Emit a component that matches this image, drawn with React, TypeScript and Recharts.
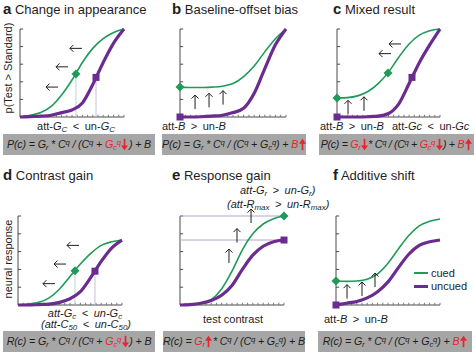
import React from "react";
import { Line, LineChart, ReferenceDot, ReferenceLine, XAxis, YAxis } from "recharts";

const GREEN = "#1f9a58";
const PURPLE = "#6a2d8f";
const RED = "#e3262f";
const INK = "#1e1e1e";
const AXIS = "#4a4a4a";
const FONT = '"Liberation Sans", Arial, Helvetica, sans-serif';

// test contrast steps, lowest to highest
const contrast = [0, 1, 2, 3, 4, 5, 6, 7, 8, 9, 10];

// 0 = x axis, 1 = top of y axis
const aCued = [0, 0.02, 0.05, 0.12, 0.25, 0.42, 0.62, 0.78, 0.89, 0.96, 1];
const aUncued = [0, 0.005, 0.01, 0.02, 0.05, 0.08, 0.16, 0.37, 0.62, 0.84, 1];
const bCued = [0.34, 0.335, 0.335, 0.34, 0.35, 0.38, 0.46, 0.58, 0.74, 0.89, 1];
const bUncued = [0, 0, 0.003, 0.01, 0.02, 0.05, 0.1, 0.27, 0.55, 0.82, 1];
const cCued = [0.216, 0.22, 0.24, 0.29, 0.38, 0.51, 0.68, 0.83, 0.93, 0.98, 1];
const cUncued = [0, 0, 0, 0.003, 0.01, 0.04, 0.15, 0.38, 0.62, 0.82, 1];
const dCued = [0, 0.01, 0.03, 0.08, 0.18, 0.32, 0.46, 0.58, 0.67, 0.71, 0.73];
const dUncued = [0, 0, 0.005, 0.01, 0.03, 0.07, 0.15, 0.31, 0.49, 0.64, 0.73];
const eCued = [0, 0.005, 0.02, 0.06, 0.18, 0.38, 0.62, 0.8, 0.91, 0.97, 1];
const eUncued = [0, 0.005, 0.02, 0.05, 0.11, 0.22, 0.4, 0.56, 0.66, 0.71, 0.73];
const fCued = [0.27, 0.265, 0.27, 0.29, 0.35, 0.47, 0.63, 0.78, 0.89, 0.94, 0.966];
const fUncued = [0, 0.02, 0.04, 0.08, 0.15, 0.26, 0.42, 0.57, 0.67, 0.71, 0.73];

const aMarks = [{ x: 5.38, y: 0.49, kind: "cued" }, { x: 7.31, y: 0.45, kind: "uncued" }];
const bMarks = [{ x: 0, y: 0.34, kind: "cued" }, { x: 0, y: 0, kind: "uncued" }];
const cMarks = [
  { x: 0, y: 0.216, kind: "cued" },
  { x: 4.95, y: 0.5, kind: "cued" },
  { x: 0, y: 0, kind: "uncued" },
  { x: 7.28, y: 0.45, kind: "uncued" }
];
const dMarks = [{ x: 5.48, y: 0.385, kind: "cued" }, { x: 7.4, y: 0.38, kind: "uncued" }];
const eMarks = [{ x: 10, y: 1, kind: "cued" }, { x: 10, y: 0.73, kind: "uncued" }];
const fMarks = [{ x: 0, y: 0.27, kind: "cued" }, { x: 0, y: 0, kind: "uncued" }];

const aArrows = [{ x: 5.38, y: 0.78, dir: "left" }, { x: 4.04, y: 0.57, dir: "left" }, { x: 3.08, y: 0.34, dir: "left" }];
const bArrows = [{ x: 1.42, y: 0.17, dir: "up" }, { x: 2.74, y: 0.19, dir: "up" }, { x: 4.06, y: 0.22, dir: "up" }];
const cArrows = [
  { x: 5.63, y: 0.83, dir: "left" },
  { x: 4.66, y: 0.72, dir: "left" },
  { x: 1.07, y: 0.11, dir: "up" },
  { x: 2.62, y: 0.15, dir: "up" }
];
const dArrows = [{ x: 5.29, y: 0.67, dir: "left" }, { x: 4.04, y: 0.46, dir: "left" }, { x: 2.98, y: 0.24, dir: "left" }];
const eArrows = [{ x: 6.83, y: 1.0, dir: "up" }, { x: 5.48, y: 0.78, dir: "up" }, { x: 4.71, y: 0.55, dir: "up" }];
const fArrows = [{ x: 1.06, y: 0.15, dir: "up" }, { x: 2.5, y: 0.18, dir: "up" }, { x: 3.75, y: 0.28, dir: "up" }];

const eLevels = [1, 0.73];

const Y_TICKS = [0.2, 0.4, 0.6, 0.8, 1];
const X_TICKS = [0.5, 1, 1.5, 2, 2.5, 3, 3.5, 4, 4.5, 5, 5.5, 6, 6.5, 7, 7.5, 8, 8.5, 9, 9.5, 10];

// plot area of each panel in page pixels
const PLOTS = {
  a: { x: 20, y: 29, w: 104, h: 88 },
  b: { x: 180, y: 29, w: 106, h: 88 },
  c: { x: 337, y: 29, w: 103, h: 88 },
  d: { x: 18, y: 216, w: 104, h: 89 },
  e: { x: 180, y: 216, w: 104, h: 89 },
  f: { x: 336, y: 216, w: 104, h: 89 }
};

type Mark = { x: number; y: number; kind: string };
type Arrow = { x: number; y: number; dir: string };

function markShape(kind: string) {
  return (p: any) =>
    kind === "cued" ? (
      <polygon
        points={`${p.cx},${p.cy - 4.5} ${p.cx + 4.5},${p.cy} ${p.cx},${p.cy + 4.5} ${p.cx - 4.5},${p.cy}`}
        fill={GREEN}
      />
    ) : (
      <rect x={p.cx - 3.5} y={p.cy - 3.5} width={7} height={7} fill={PURPLE} />
    );
}

function arrowShape(dir: string) {
  return (p: any) => {
    const { cx, cy } = p;
    const d =
      dir === "left"
        ? `M${cx + 6},${cy} H${cx - 6} M${cx - 2.5},${cy - 3.5} L${cx - 6},${cy} L${cx - 2.5},${cy + 3.5}`
        : `M${cx},${cy + 7} V${cy - 7} M${cx - 3.5},${cy - 3.5} L${cx},${cy - 7} L${cx + 3.5},${cy - 3.5}`;
    return <path d={d} stroke={INK} strokeWidth={1} fill="none" />;
  };
}

function Panel({
  box,
  cued,
  uncued,
  marks,
  arrows,
  drops = false,
  levels = []
}: {
  box: { x: number; y: number; w: number; h: number };
  cued: number[];
  uncued: number[];
  marks: Mark[];
  arrows: Arrow[];
  drops?: boolean;
  levels?: number[];
}) {
  const pad = 8;
  const data = contrast.map((c, i) => ({ c, cued: cued[i], uncued: uncued[i] }));
  return (
    <div style={{ position: "absolute", left: box.x - pad, top: box.y - pad }}>
      <LineChart width={box.w + pad * 2} height={box.h + pad * 2} data={data} margin={{ top: pad, right: pad, bottom: pad, left: pad }}>
        <XAxis dataKey="c" type="number" domain={[0, 10]} hide />
        <YAxis type="number" domain={[0, 1]} hide />
        {/* axes with small inward ticks */}
        <ReferenceLine segment={[{ x: 0, y: 0 }, { x: 10, y: 0 }]} stroke={AXIS} strokeWidth={1} />
        <ReferenceLine segment={[{ x: 0, y: 0 }, { x: 0, y: 1 }]} stroke={AXIS} strokeWidth={1} />
        {Y_TICKS.map((t) => (
          <ReferenceLine key={`yt-${t}`} segment={[{ x: 0, y: t }, { x: 0.3, y: t }]} stroke={AXIS} strokeWidth={1} />
        ))}
        {X_TICKS.map((t) => (
          <ReferenceLine key={`xt-${t}`} segment={[{ x: t, y: 0 }, { x: t, y: 0.025 }]} stroke="#777" strokeWidth={1} />
        ))}
        {levels.map((l) => (
          <ReferenceLine key={l} y={l} stroke="#b3a6cf" strokeWidth={1} />
        ))}
        {drops &&
          marks.map((m) => (
            <ReferenceLine
              key={`drop-${m.x}`}
              segment={[{ x: m.x, y: 0 }, { x: m.x, y: m.y }]}
              stroke={m.kind === "cued" ? "#b9d9c4" : "#cdbfdc"}
              strokeWidth={1}
            />
          ))}
        <Line dataKey="cued" type="monotone" stroke={GREEN} strokeWidth={1.6} dot={false} isAnimationActive={false} />
        <Line dataKey="uncued" type="monotone" stroke={PURPLE} strokeWidth={3.2} dot={false} isAnimationActive={false} />
        {marks.map((m) => (
          <ReferenceDot key={`m-${m.x}-${m.y}`} x={m.x} y={m.y} r={4} shape={markShape(m.kind)} />
        ))}
        {arrows.map((a) => (
          <ReferenceDot key={`a-${a.x}-${a.y}`} x={a.x} y={a.y} r={6} shape={arrowShape(a.dir)} ifOverflow="visible" />
        ))}
      </LineChart>
    </div>
  );
}

const subStyle: React.CSSProperties = { fontSize: "0.72em", verticalAlign: "-0.3em", lineHeight: 0 };
const supStyle: React.CSSProperties = { fontSize: "0.72em", verticalAlign: "0.45em", lineHeight: 0 };

function G({ s, q = false, red = false }: { s: string; q?: boolean; red?: boolean }) {
  return (
    <span style={{ color: red ? RED : undefined }}>
      G<span style={subStyle}>{s}</span>
      {q && <span style={supStyle}>q</span>}
    </span>
  );
}

function Cq() {
  return (
    <span>
      C<span style={supStyle}>q</span>
    </span>
  );
}

function RedArrow({ up = false }: { up?: boolean }) {
  return (
    <svg width={7} height={13} viewBox="0 0 8 13" style={{ verticalAlign: "-3px", margin: "0 0.5px" }}>
      {up ? (
        <>
          <line x1={4} y1={13} x2={4} y2={4} stroke={RED} strokeWidth={2} />
          <polygon points="0,5.5 4,0 8,5.5" fill={RED} />
        </>
      ) : (
        <>
          <line x1={4} y1={0} x2={4} y2={9} stroke={RED} strokeWidth={2} />
          <polygon points="0,7.5 4,13 8,7.5" fill={RED} />
        </>
      )}
    </svg>
  );
}

function Box({
  x,
  y,
  w,
  h = 21,
  tight = false,
  children
}: {
  x: number;
  y: number;
  w: number;
  h?: number;
  tight?: boolean;
  children: React.ReactNode;
}) {
  return (
    <div
      style={{
        position: "absolute",
        left: x,
        top: y,
        width: w,
        height: h,
        lineHeight: `${h}px`,
        background: "#a6a6a6",
        textAlign: "center",
        fontStyle: "italic",
        fontSize: 10.7,
        letterSpacing: tight ? "-0.35px" : "-0.15px",
        whiteSpace: "nowrap"
      }}
    >
      {children}
    </div>
  );
}

function Text({ x, y, size = 11, italic = false, center = false, children }: any) {
  return (
    <div
      style={{
        position: "absolute",
        left: center ? x - 80 : x,
        width: center ? 160 : undefined,
        top: y - 7,
        lineHeight: "14px",
        fontSize: size,
        fontStyle: italic ? "italic" : "normal",
        textAlign: center ? "center" : "left",
        whiteSpace: "nowrap"
      }}
    >
      {children}
    </div>
  );
}

function Title({ x, y, letter, label }: { x: number; y: number; letter: string; label: string }) {
  return (
    <div style={{ position: "absolute", left: x, top: y, fontSize: 13, lineHeight: "16px", whiteSpace: "nowrap" }}>
      <b style={{ fontSize: 15 }}>{letter}</b> {label}
    </div>
  );
}

function VLabel({ x, y, children }: { x: number; y: number; children: React.ReactNode }) {
  return (
    <div
      style={{
        position: "absolute",
        left: x - 60,
        top: y - 7,
        width: 120,
        lineHeight: "14px",
        fontSize: 11,
        textAlign: "center",
        transform: "rotate(-90deg)",
        whiteSpace: "nowrap"
      }}
    >
      {children}
    </div>
  );
}

const it = (s: string) => <i>{s}</i>;
const sp = "\u2002";

export default function App() {
  return (
    <div
      style={{
        position: "absolute",
        left: 0,
        top: 0,
        width: 474,
        height: 354,
        overflow: "hidden",
        background: "#fff",
        fontFamily: FONT,
        color: INK
      }}
    >
      <Title x={3} y={1} letter="a" label="Change in appearance" />
      <Title x={172} y={1} letter="b" label="Baseline-offset bias" />
      <Title x={333} y={1} letter="c" label="Mixed result" />
      <Title x={3} y={167} letter="d" label="Contrast gain" />
      <Title x={172} y={167} letter="e" label="Response gain" />
      <Title x={333} y={167} letter="f" label="Additive shift" />

      <VLabel x={8} y={68}>p(Test &gt; Standard)</VLabel>
      <VLabel x={8} y={259}>neural response</VLabel>

      <Panel box={PLOTS.a} cued={aCued} uncued={aUncued} marks={aMarks} arrows={aArrows} drops />
      <Panel box={PLOTS.b} cued={bCued} uncued={bUncued} marks={bMarks} arrows={bArrows} />
      <Panel box={PLOTS.c} cued={cCued} uncued={cUncued} marks={cMarks} arrows={cArrows} />
      <Panel box={PLOTS.d} cued={dCued} uncued={dUncued} marks={dMarks} arrows={dArrows} drops />
      <Panel box={PLOTS.e} cued={eCued} uncued={eUncued} marks={eMarks} arrows={eArrows} levels={eLevels} />
      <Panel box={PLOTS.f} cued={fCued} uncued={fUncued} marks={fMarks} arrows={fArrows} />

      {/* x-axis notes */}
      <Text x={76} y={126} center>
        att-{it("G")}<span style={subStyle}>{it("C")}</span>{sp}&lt;{sp}un-{it("G")}<span style={subStyle}>{it("C")}</span>
      </Text>
      <Text x={162} y={126}>
        att-{it("B")}{sp}&gt;{sp}un-{it("B")}
      </Text>
      <Text x={320} y={126}>
        att-{it("B")}{sp}&gt;{sp}un-{it("B")}
      </Text>
      <Text x={392} y={126}>
        att-{it("Gc")}{sp}&lt;{sp}un-{it("Gc")}
      </Text>
      <Text x={85} y={313} center italic>
        att-G<span style={subStyle}>c</span>{sp}&lt;{sp}un-G<span style={subStyle}>c</span>
      </Text>
      <Text x={86} y={324} center italic>
        (att-C<span style={subStyle}>50</span>{sp}&lt;{sp}un-C<span style={subStyle}>50</span>)
      </Text>
      <Text x={240} y={190} italic>
        att-G<span style={subStyle}>r</span>{sp}&gt;{sp}un-G<span style={subStyle}>r</span>)
      </Text>
      <Text x={227} y={204} italic>
        (att-R<span style={subStyle}>max</span>{sp}&gt;{sp}un-R<span style={subStyle}>max</span>)
      </Text>
      <Text x={233} y={319} center>
        test contrast
      </Text>
      <Text x={324} y={319}>
        att-{it("B")}{sp}&gt;{sp}un-{it("B")}
      </Text>

      {/* legend */}
      <div style={{ position: "absolute", left: 414, top: 272, width: 14, height: 2, background: GREEN }} />
      <Text x={431} y={273}>cued</Text>
      <div style={{ position: "absolute", left: 414, top: 284.5, width: 14, height: 3.5, background: PURPLE }} />
      <Text x={431} y={286}>uncued</Text>

      {/* model equations */}
      <Box x={3} y={134} w={152}>
        P(c) = <G s="r" /> * <Cq /> / (<Cq /> + <G s="c" q red />
        <RedArrow />) + B
      </Box>
      <Box x={162} y={134} w={144}>
        P(c) = <G s="r" /> * <Cq /> / (<Cq /> + <G s="c" q />) + <span style={{ color: RED }}>B</span>
        <RedArrow up />
      </Box>
      <Box x={319} y={134} w={155} tight>
        P(c) = <G s="r" red />
        <RedArrow />* <Cq /> / (<Cq /> + <G s="c" q red />
        <RedArrow />) + <span style={{ color: RED }}>B</span>
        <RedArrow up />
      </Box>
      <Box x={3} y={331} w={152}>
        R(c) = <G s="r" /> * <Cq /> / (<Cq /> + <G s="c" q red />
        <RedArrow />) + B
      </Box>
      <Box x={163} y={331} w={142}>
        R(c) = <G s="r" red />
        <RedArrow up />* <Cq /> / (<Cq /> + <G s="c" q />) + B
      </Box>
      <Box x={318} y={331} w={154}>
        R(c) = <G s="r" /> * <Cq /> / (<Cq /> + <G s="c" q />) + <span style={{ color: RED }}>B</span>
        <RedArrow up />
      </Box>
    </div>
  );
}
